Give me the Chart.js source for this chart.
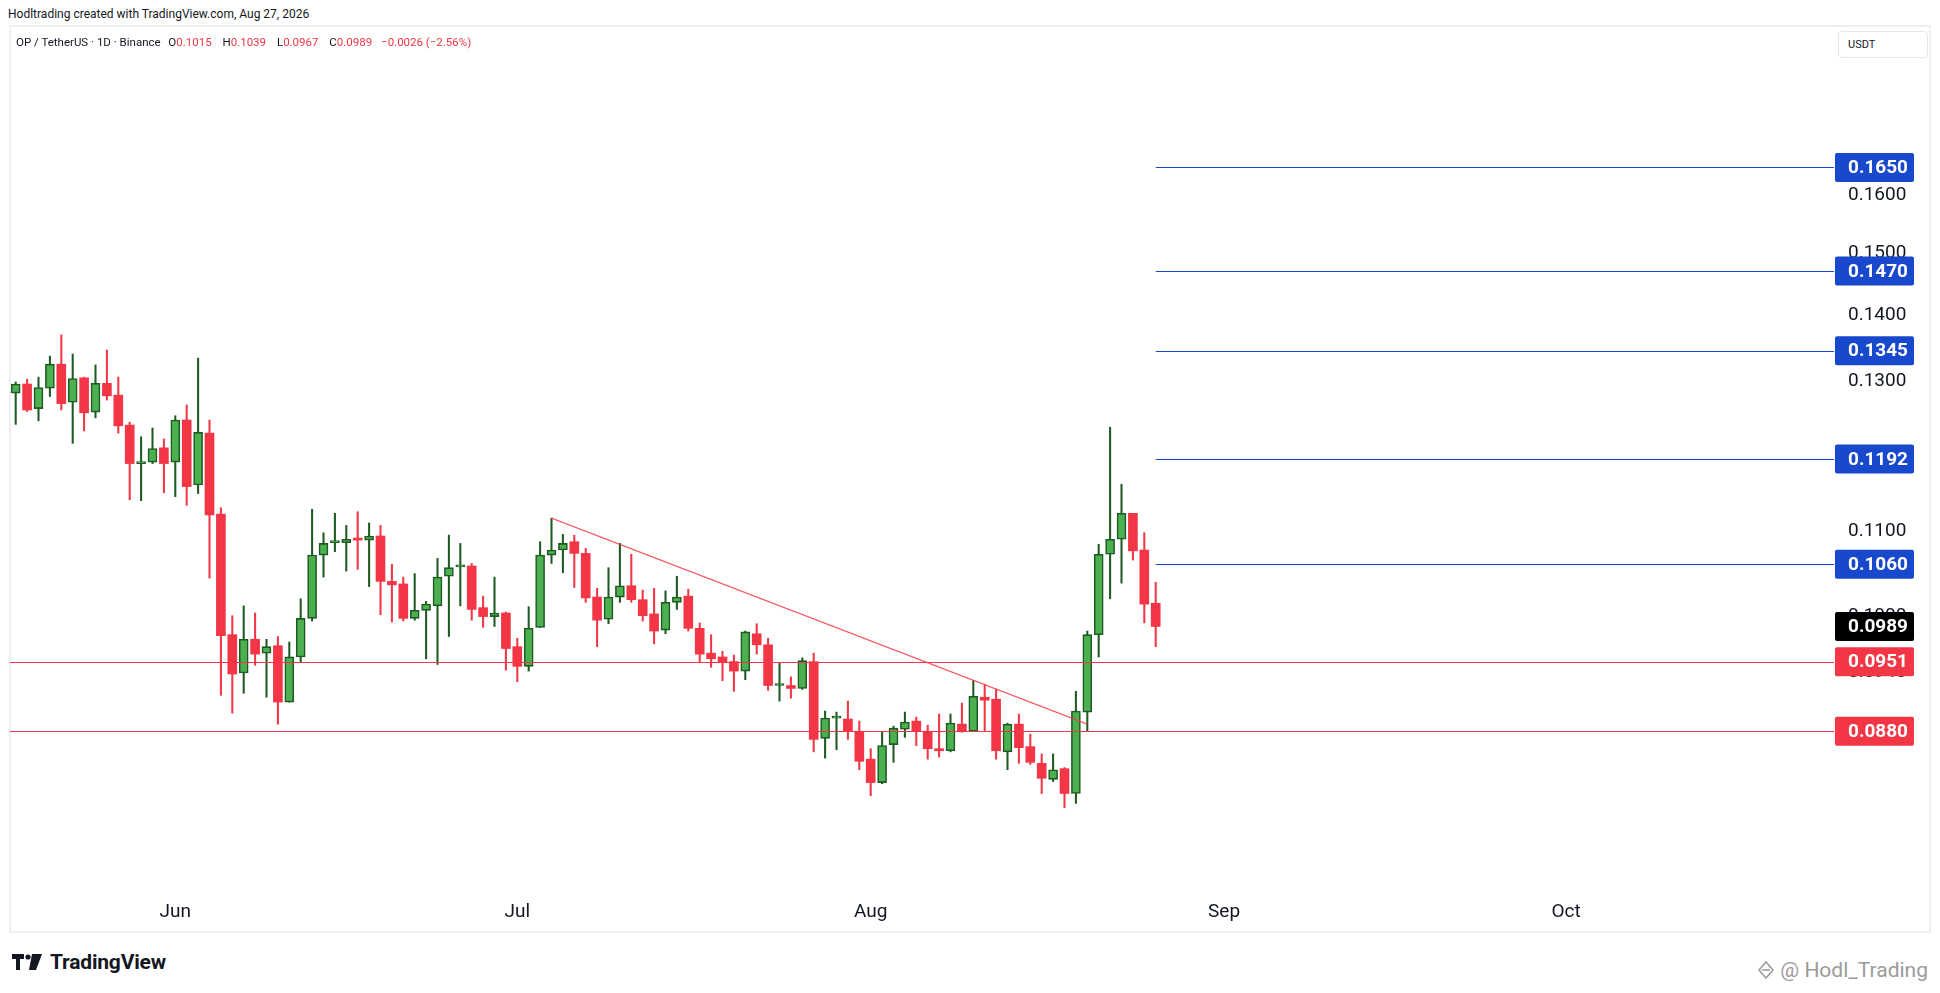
<!DOCTYPE html>
<html>
<head>
<meta charset="utf-8">
<title>OP / TetherUS · 1D · Binance</title>
<script src="https://cdn.jsdelivr.net/npm/chart.js@4.4.1/dist/chart.umd.min.js"></script>
<style>
  html, body { margin: 0; padding: 0; background: #ffffff; }
  body { width: 1940px; height: 993px; position: relative; overflow: hidden;
         font-family: Roboto, "Noto Sans", sans-serif; color: #131722; }
  #credit { position: absolute; left: 8px; top: 7px; font-size: 12px; white-space: nowrap; }
  #frame { position: absolute; left: 9px; top: 25px; width: 1918px; height: 904px;
           border: 2px solid #efefef; }
  #wrap { position: absolute; left: 10px; top: 27px; width: 1920px; height: 905px; }
  #legend { position: absolute; left: 16px; top: 35px; font-size: 11.5px; white-space: nowrap; }
  #legend .v { color: #f23645; margin-right: 6px; }
  #legend .k { margin-left: 2px; }
  #unit { position: absolute; left: 1838px; top: 31px; width: 79px; height: 25px; padding-left: 9px;
          border: 1px solid #e6e6e6; border-radius: 4px; font-size: 11px; line-height: 25px; background: #fff; }
  #logo { position: absolute; left: 12px; top: 950px; height: 24px; display: flex; align-items: center; }
  #logo span { font-weight: 700; font-size: 21px; margin-left: 8px; letter-spacing: -0.2px; }
  #mark { position: absolute; right: 12px; top: 958px; font-size: 21px; color: #9b9b9b;
          display: flex; align-items: center; }
</style>
</head>
<body>
<div id="credit">Hodltrading created with TradingView.com, Aug 27, 2026</div>
<div id="frame"></div>
<div id="wrap"><canvas id="opChart"></canvas></div>
<div id="legend">OP / TetherUS · 1D · Binance&nbsp;&nbsp;<span class="k">O</span><span class="v">0.1015</span>
<span class="k">H</span><span class="v">0.1039</span> <span class="k">L</span><span class="v">0.0967</span>
<span class="k">C</span><span class="v">0.0989</span> <span class="v">−0.0026 (−2.56%)</span></div>
<div id="unit">USDT</div>
<div id="logo">
  <svg width="30" height="16" viewBox="0 0 30 16">
    <path d="M0 0h12v5H8v11H4V5H0z" fill="#131722"/>
    <circle cx="16" cy="3" r="2.6" fill="#131722"/>
    <path d="M20 0h10l-6 16h-7z" fill="#131722"/>
  </svg>
  <span>TradingView</span>
</div>
<div id="mark">
  <svg width="20" height="20" viewBox="0 0 20 20" style="margin-right:4px">
    <path d="M10 2l7 8-7 8-7-8z" fill="none" stroke="#9b9b9b" stroke-width="1.6"/>
    <path d="M6 10h8" stroke="#9b9b9b" stroke-width="1.6"/>
  </svg>
  @ Hodl_Trading
</div>

<script>
// daily candles, OP/USDT, from 2026-05-18
const opens = [
  0.1283, 0.1296, 0.1261, 0.1290, 0.1325, 0.1270, 0.1305, 0.1256, 0.1297, 0.1280,
  0.1238, 0.1186, 0.1188, 0.1207, 0.1188, 0.1245, 0.1158, 0.1227, 0.1121, 0.0980,
  0.0939, 0.0975, 0.0960, 0.0968, 0.0909, 0.0956, 0.0998, 0.1071, 0.1086, 0.1086,
  0.1090, 0.1089, 0.1094, 0.1040, 0.1037, 0.0998, 0.1007, 0.1012, 0.1046, 0.1057,
  0.1058, 0.1010, 0.1000, 0.1004, 0.0967, 0.0946, 0.0988, 0.1071, 0.1077, 0.1087,
  0.1073, 0.1022, 0.0997, 0.1022, 0.1035, 0.1019, 0.1003, 0.0985, 0.1016, 0.1023,
  0.0987, 0.0960, 0.0956, 0.0951, 0.0941, 0.0981, 0.0969, 0.0926, 0.0926, 0.0923,
  0.0951, 0.0873, 0.0893, 0.0892, 0.0880, 0.0853, 0.0831, 0.0867, 0.0882, 0.0890,
  0.0880, 0.0863, 0.0861, 0.0887, 0.0880, 0.0914, 0.0912, 0.0860, 0.0887, 0.0865,
  0.0849, 0.0834, 0.0844, 0.0821, 0.0899, 0.0980, 0.1072, 0.1090, 0.1122, 0.1077,
  0.1015
];
const highs = [
  0.1299, 0.1303, 0.1306, 0.1337, 0.1369, 0.1340, 0.1306, 0.1324, 0.1346, 0.1306,
  0.1242, 0.1222, 0.1234, 0.1219, 0.1251, 0.1266, 0.1334, 0.1245, 0.1129, 0.1001,
  0.1012, 0.1004, 0.0975, 0.0978, 0.0972, 0.1020, 0.1127, 0.1098, 0.1122, 0.1107,
  0.1124, 0.1110, 0.1107, 0.1060, 0.1045, 0.1049, 0.1017, 0.1067, 0.1095, 0.1085,
  0.1061, 0.1023, 0.1045, 0.1005, 0.0976, 0.1011, 0.1087, 0.1116, 0.1096, 0.1095,
  0.1079, 0.1032, 0.1056, 0.1085, 0.1072, 0.1030, 0.1032, 0.1029, 0.1046, 0.1031,
  0.0993, 0.0980, 0.0962, 0.0958, 0.0984, 0.0992, 0.0976, 0.0950, 0.0935, 0.0955,
  0.0960, 0.0900, 0.0899, 0.0910, 0.0890, 0.0863, 0.0879, 0.0885, 0.0899, 0.0894,
  0.0886, 0.0897, 0.0897, 0.0908, 0.0931, 0.0927, 0.0922, 0.0888, 0.0897, 0.0877,
  0.0858, 0.0858, 0.0845, 0.0920, 0.0984, 0.1084, 0.1235, 0.1159, 0.1122, 0.1098,
  0.1039
];
const lows = [
  0.1239, 0.1257, 0.1244, 0.1278, 0.1259, 0.1213, 0.1230, 0.1248, 0.1273, 0.1227,
  0.1139, 0.1138, 0.1186, 0.1148, 0.1143, 0.1132, 0.1147, 0.1044, 0.0916, 0.0898,
  0.0918, 0.0947, 0.0914, 0.0887, 0.0909, 0.0950, 0.0995, 0.1045, 0.1075, 0.1052,
  0.1054, 0.1034, 0.1002, 0.0994, 0.0995, 0.0996, 0.0954, 0.0948, 0.0978, 0.1012,
  0.0996, 0.0988, 0.0989, 0.0942, 0.0930, 0.0941, 0.0988, 0.1061, 0.1050, 0.1033,
  0.1016, 0.0967, 0.0992, 0.1016, 0.1016, 0.0995, 0.0970, 0.0981, 0.1008, 0.0984,
  0.0951, 0.0945, 0.0931, 0.0920, 0.0932, 0.0959, 0.0921, 0.0910, 0.0913, 0.0922,
  0.0860, 0.0854, 0.0862, 0.0872, 0.0843, 0.0819, 0.0830, 0.0850, 0.0874, 0.0866,
  0.0853, 0.0855, 0.0860, 0.0879, 0.0880, 0.0880, 0.0853, 0.0843, 0.0849, 0.0848,
  0.0821, 0.0832, 0.0808, 0.0812, 0.0880, 0.0956, 0.1020, 0.1038, 0.1065, 0.0993,
  0.0967
];
const closes = [
  0.1296, 0.1259, 0.1291, 0.1325, 0.1268, 0.1304, 0.1255, 0.1297, 0.1279, 0.1237,
  0.1186, 0.1187, 0.1206, 0.1186, 0.1245, 0.1156, 0.1228, 0.1120, 0.0979, 0.0938,
  0.0975, 0.0959, 0.0967, 0.0909, 0.0956, 0.0998, 0.1071, 0.1085, 0.1087, 0.1090,
  0.1089, 0.1094, 0.1040, 0.1036, 0.0998, 0.1007, 0.1014, 0.1045, 0.1056, 0.1058,
  0.1008, 0.1000, 0.1004, 0.0965, 0.0946, 0.0987, 0.1071, 0.1077, 0.1085, 0.1073,
  0.1021, 0.0996, 0.1022, 0.1035, 0.1019, 0.1001, 0.0984, 0.1016, 0.1022, 0.0987,
  0.0959, 0.0954, 0.0950, 0.0941, 0.0983, 0.0969, 0.0926, 0.0927, 0.0923, 0.0952,
  0.0872, 0.0893, 0.0894, 0.0880, 0.0851, 0.0831, 0.0866, 0.0883, 0.0889, 0.0880,
  0.0863, 0.0861, 0.0888, 0.0880, 0.0915, 0.0911, 0.0861, 0.0887, 0.0864, 0.0850,
  0.0835, 0.0843, 0.0821, 0.0900, 0.0980, 0.1072, 0.1090, 0.1122, 0.1076, 0.1014,
  0.0989
];

const priceTicks = [0.16, 0.15, 0.14, 0.13, 0.12, 0.11, 0.10, 0.094];
const blueLevels = [0.1650, 0.1470, 0.1345, 0.1192, 0.1060];
const redLevels = [0.0951, 0.0880];
const lastPrice = 0.0989;
const levelStartDay = 100;
const trendDays = [47, 94];
const trendPrices = [0.1116, 0.0887];
const monthNames = ['Jan', 'Feb', 'Mar', 'Apr', 'May', 'Jun', 'Jul', 'Aug', 'Sep', 'Oct', 'Nov', 'Dec'];

// 160 daily slots: 101 traded days plus the empty space on the right
const days = [];
for (let i = 0; i < 160; i++) {
    days.push(new Date(Date.UTC(2026, 4, 18 + i)).toISOString().slice(0, 10));
}

const green = '#4caf50';
const greenEdge = '#1e5b22';
const red = '#f23645';
const isUp = opens.map((o, i) => closes[i] >= o);

const bodies = opens.map((o, i) => [o, closes[i]]);
const wicks = lows.map((l, i) => [l, highs[i]]);
const trend = trendDays.map((d, i) => ({ x: days[d], y: trendPrices[i] }));

const levelPlugin = {
    id: 'levels',
    afterDatasetsDraw(chart) {
        const { ctx, chartArea, scales: { x, y } } = chart;
        const x0 = x.getPixelForValue(levelStartDay);
        ctx.save();
        ctx.lineWidth = 1.2;
        ctx.strokeStyle = '#1848cc';
        blueLevels.forEach(v => {
            const py = Math.round(y.getPixelForValue(v)) + 0.5;
            ctx.beginPath(); ctx.moveTo(x0, py); ctx.lineTo(chartArea.right, py); ctx.stroke();
        });
        ctx.strokeStyle = red;
        redLevels.forEach(v => {
            const py = Math.round(y.getPixelForValue(v)) + 0.5;
            ctx.beginPath(); ctx.moveTo(chartArea.left, py); ctx.lineTo(chartArea.right, py); ctx.stroke();
        });
        ctx.restore();
    },
    afterDraw(chart) {
        const { ctx, chartArea, scales: { y } } = chart;
        const tags = blueLevels.map(v => [v, '#1848cc'])
            .concat([[lastPrice, '#000000']])
            .concat(redLevels.map(v => [v, red]));
        ctx.save();
        ctx.font = 'bold 19px Roboto, "Noto Sans", sans-serif';
        ctx.textBaseline = 'middle';
        ctx.textAlign = 'left';
        tags.forEach(([v, c]) => {
            const py = y.getPixelForValue(v);
            ctx.fillStyle = c;
            ctx.beginPath();
            ctx.roundRect(chartArea.right + 1, py - 14.5, 79, 29, 2);
            ctx.fill();
            ctx.fillStyle = '#ffffff';
            ctx.fillText(v.toFixed(4), chartArea.right + 14, py + 1);
        });
        ctx.restore();
    }
};

const ctx = document.getElementById('opChart').getContext('2d');
new Chart(ctx, {
    type: 'bar',
    data: {
        labels: days,
        datasets: [
            {
                type: 'line',
                data: trend,
                borderColor: 'rgba(242, 54, 69, 0.8)',
                borderWidth: 1.3,
                pointRadius: 0,
                order: -1
            },
            {
                data: bodies,
                backgroundColor: isUp.map(u => u ? green : red),
                borderColor: isUp.map(u => u ? greenEdge : red),
                borderWidth: isUp.map(u => u ? 1.6 : 0),
                borderSkipped: false,
                barThickness: 9,
                minBarLength: 2,
                grouped: false,
                order: 0
            },
            {
                data: wicks,
                backgroundColor: isUp.map(u => u ? greenEdge : red),
                barThickness: 1.4,
                grouped: false,
                order: 1
            }
        ]
    },
    options: {
        responsive: true,
        maintainAspectRatio: false,
        animation: false,
        layout: { padding: 0 },
        plugins: {
            legend: { display: false },
            tooltip: { enabled: false }
        },
        scales: {
            x: {
                offset: true,
                grid: { display: false, drawTicks: false },
                border: { display: false },
                ticks: {
                    autoSkip: false,
                    maxRotation: 0,
                    padding: 5,
                    color: '#131722',
                    font: { family: 'Roboto', size: 19 },
                    callback(value) {
                        const d = this.getLabelForValue(value);
                        return d.slice(8) === '01' ? monthNames[+d.slice(5, 7) - 1] : '';
                    }
                },
                afterFit(s) {
                    s.height = 36;
                    s.paddingLeft = 0;
                    s.paddingRight = 0;
                }
            },
            y: {
                type: 'logarithmic',
                position: 'right',
                min: 0.07323,
                max: 0.19297,
                bounds: 'data',
                grid: { display: false, drawTicks: false },
                border: { display: false },
                ticks: {
                    padding: 14,
                    color: '#131722',
                    font: { family: 'Roboto', size: 19 },
                    callback: v => v.toFixed(4)
                },
                afterBuildTicks(s) {
                    s.ticks = priceTicks.map(value => ({ value }));
                },
                afterFit(s) {
                    s.width = 96;
                    s.paddingTop = 0;
                    s.paddingBottom = 0;
                }
            }
        }
    },
    plugins: [levelPlugin]
});
</script>
</body>
</html>
